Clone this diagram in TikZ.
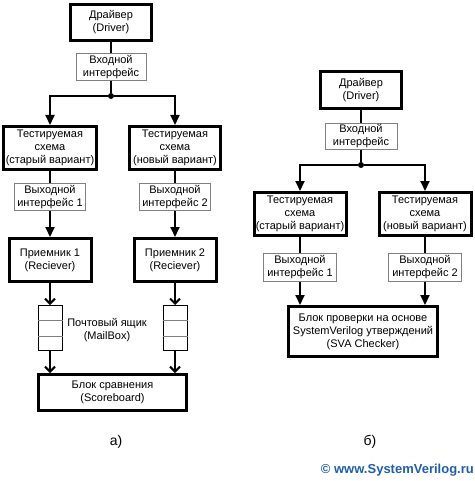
\documentclass[tikz,border=0pt]{standalone}
\usepackage{fontspec}
\setmainfont{Liberation Sans}
\usetikzlibrary{arrows.meta}
\definecolor{boxgray}{RGB}{128,128,128}
\definecolor{siteblue}{RGB}{31,94,170}

\begin{document}
\begin{tikzpicture}[x=1pt, y=-1pt,
    every node/.style={font=\fontsize{11}{13}\selectfont, align=center, inner sep=0pt},
    block/.style={draw, rectangle, line width=3pt},
    iface/.style={draw=boxgray, rectangle, line width=1pt},
    mbox/.style={draw, rectangle, line width=1pt, minimum width=24pt, minimum height=45pt},
    joint/.style={circle, fill, minimum size=6pt},
    conn/.style={line width=2pt},
    arr/.style={line width=2pt, -{Triangle[length=10pt, width=9pt]}},
    barb/.style={line width=2pt, -{Straight Barb[length=5pt, width=10pt]}},
    caption/.style={font=\fontsize{14}{16}\selectfont}]
    \useasboundingbox (0,0) rectangle (474,481);

    % a)
    \node (drvA) [block, minimum width=81pt, minimum height=36pt] at (111,22.5) {Драйвер\\(Driver)};
    \node (inA) [iface, minimum width=70pt, minimum height=27pt] at (111,67) {Входной\\интерфейс};
    \node (dotA) [joint] at (111,96) {};
    \node (dutA1) [block, minimum width=93pt, minimum height=43pt] at (50,148) {Тестируемая\\схема\\(старый вариант)};
    \node (dutA2) [block, minimum width=91pt, minimum height=43pt] at (175,148) {Тестируемая\\схема\\(новый вариант)};
    \node (outA1) [iface, minimum width=71pt, minimum height=27pt] at (50,197) {Выходной\\интерфейс 1};
    \node (outA2) [iface, minimum width=71pt, minimum height=27pt] at (175,197) {Выходной\\интерфейс 2};
    \node (rcvA1) [block, minimum width=82pt, minimum height=43pt] at (50,260) {Приемник 1\\(Reciever)};
    \node (rcvA2) [block, minimum width=82pt, minimum height=43pt] at (175,260) {Приемник 2\\(Reciever)};
    \node (mbA1) [mbox] at (50,328) {};
    \node (mbA2) [mbox] at (175,328) {};
    \node (mlbl) at (107,330) {Почтовый ящик\\(MailBox)};
    \node (scbA) [block, minimum width=148pt, minimum height=36pt] at (112.5,392.5) {Блок сравнения\\(Scoreboard)};
    \node (lblA) [caption] at (116,442) {а)};

    \foreach \mb in {mbA1,mbA2} {
        \draw[boxgray, line width=1pt] ([yshift=-15pt]\mb.north west) -- ([yshift=-15pt]\mb.north east);
        \draw[boxgray, line width=1pt] ([yshift=15pt]\mb.south west) -- ([yshift=15pt]\mb.south east);
    }

    \draw[conn] (drvA) -- (inA);
    \draw[conn] (inA) -- (dotA);
    \draw[arr] (dotA) -| (dutA1);
    \draw[arr] (dotA) -| (dutA2);
    \draw[conn] (dutA1) -- (outA1);
    \draw[conn] (dutA2) -- (outA2);
    \draw[arr] (outA1) -- (rcvA1);
    \draw[arr] (outA2) -- (rcvA2);
    \draw[barb] (rcvA1) -- (mbA1);
    \draw[barb] (rcvA2) -- (mbA2);
    \draw[barb] (mbA1) -- (mbA1 |- scbA.north);
    \draw[barb] (mbA2) -- (mbA2 |- scbA.north);

    % b)
    \node (drvB) [block, minimum width=81pt, minimum height=37pt] at (361,90) {Драйвер\\(Driver)};
    \node (inB) [iface, minimum width=72pt, minimum height=26pt] at (361,136.5) {Входной\\интерфейс};
    \node (dotB) [joint] at (361,165) {};
    \node (dutB1) [block, minimum width=92pt, minimum height=43pt] at (300,214) {Тестируемая\\схема\\(старый вариант)};
    \node (dutB2) [block, minimum width=92pt, minimum height=43pt] at (425,214) {Тестируемая\\схема\\(новый вариант)};
    \node (outB1) [iface, minimum width=73pt, minimum height=28pt] at (300,267.5) {Выходной\\интерфейс 1};
    \node (outB2) [iface, minimum width=73pt, minimum height=28pt] at (425,267.5) {Выходной\\интерфейс 2};
    \node (svaB) [block, minimum width=149pt, minimum height=50pt] at (363,331.5) {Блок проверки на основе\\SystemVerilog утверждений\\(SVA Checker)};
    \node (lblB) [caption] at (370,442) {б)};

    \draw[conn] (drvB) -- (inB);
    \draw[conn] (inB) -- (dotB);
    \draw[arr] (dotB) -| (dutB1);
    \draw[arr] (dotB) -| (dutB2);
    \draw[conn] (dutB1) -- (outB1);
    \draw[conn] (dutB2) -- (outB2);
    \draw[arr] (outB1) -- (outB1 |- svaB.north);
    \draw[arr] (outB2) -- (outB2 |- svaB.north);

    \node (site) [anchor=east, text=siteblue, font=\fontsize{13}{15}\selectfont\bfseries] at (474,470) {© www.SystemVerilog.ru};
\end{tikzpicture}
\end{document}
